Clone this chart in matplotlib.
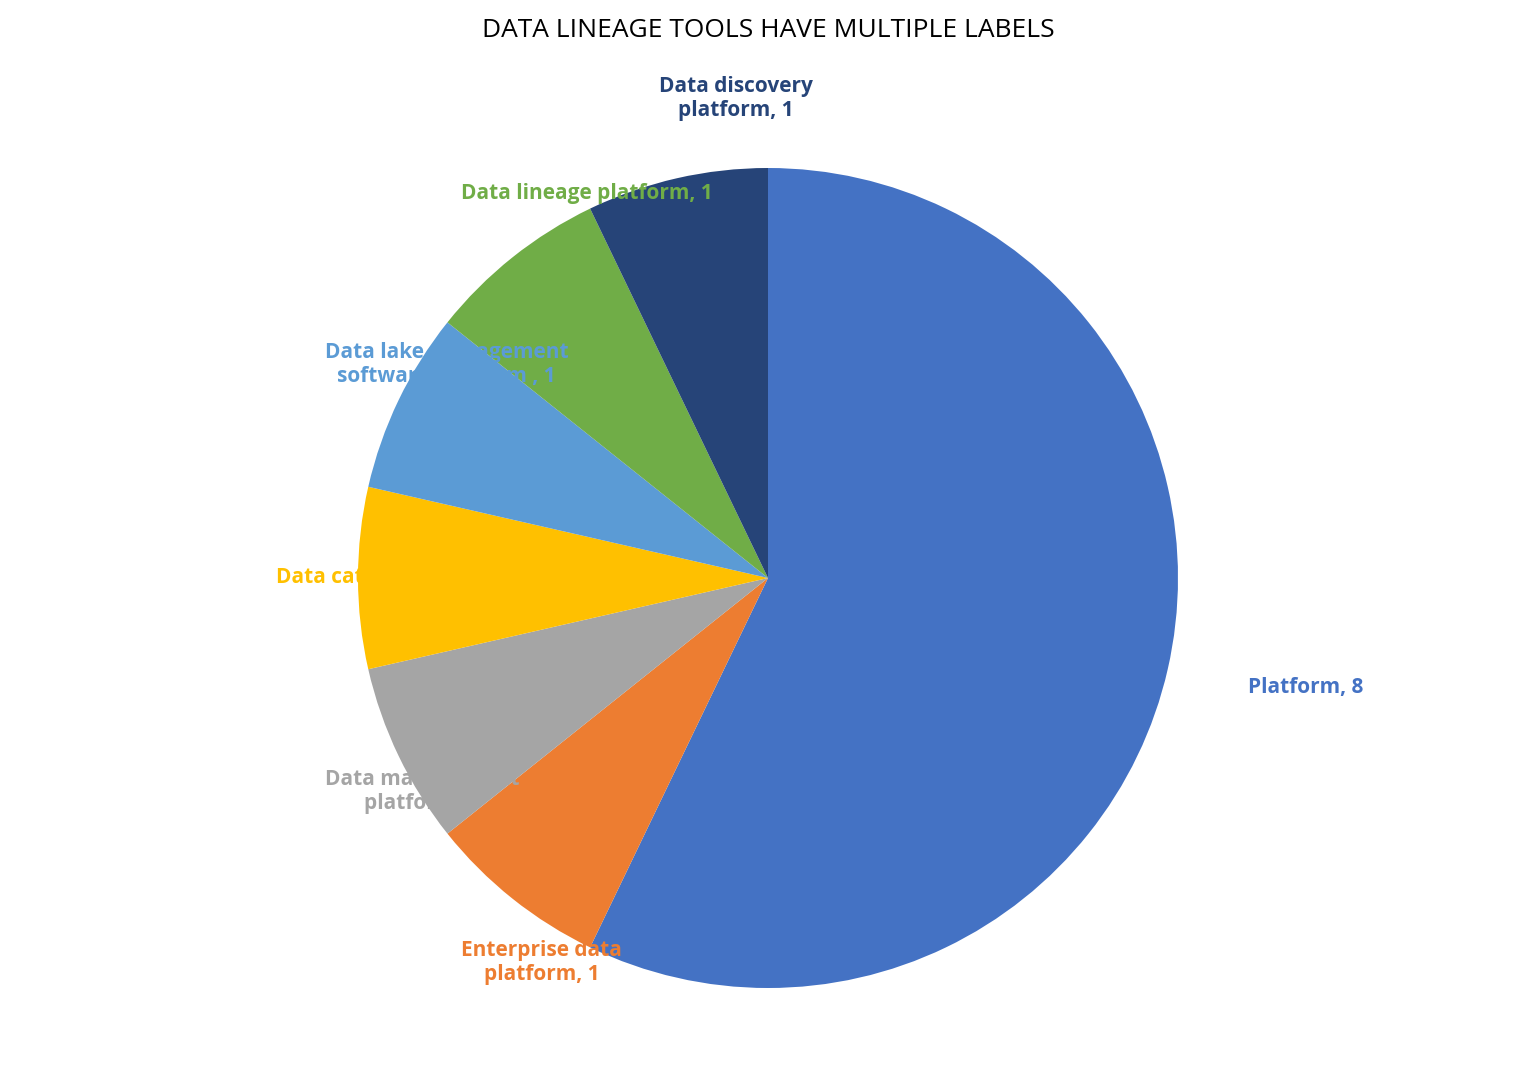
import matplotlib.pyplot as plt

labels = ['Platform, 8', 'Enterprise data\nplatform, 1', 'Data management\nplatform, 1',
          'Data catalog platform, 1', 'Data lake management\nsoftware platform , 1',
          'Data lineage platform, 1', 'Data discovery\nplatform, 1']
values = [8, 1, 1, 1, 1, 1, 1]
colors = ['#4472C4', '#ED7D31', '#A5A5A5', '#FFC000', '#5B9BD5', '#70AD47', '#264478']

plt.rcParams['font.family'] = ['Open Sans', 'DejaVu Sans']
fig = plt.figure(figsize=(15.36, 10.77), dpi=100)
ax = fig.add_axes([0, 0, 1, 1])

wedges, texts = ax.pie(values, labels=labels, colors=colors, startangle=90, counterclock=False,
                       center=(768, 499), radius=410, labeldistance=1.2,
                       textprops=dict(fontsize=15, fontweight='bold'))
for t, c in zip(texts, colors):
    t.set_color(c)
    t.set_multialignment('center')

ax.set_xlim(0, 1536)
ax.set_ylim(0, 1077)
ax.set_aspect('equal')
ax.axis('off')

fig.text(0.5, 0.972, 'DATA LINEAGE TOOLS HAVE MULTIPLE LABELS', ha='center', va='center', fontsize=19)
fig.savefig('out.png', dpi=100)
